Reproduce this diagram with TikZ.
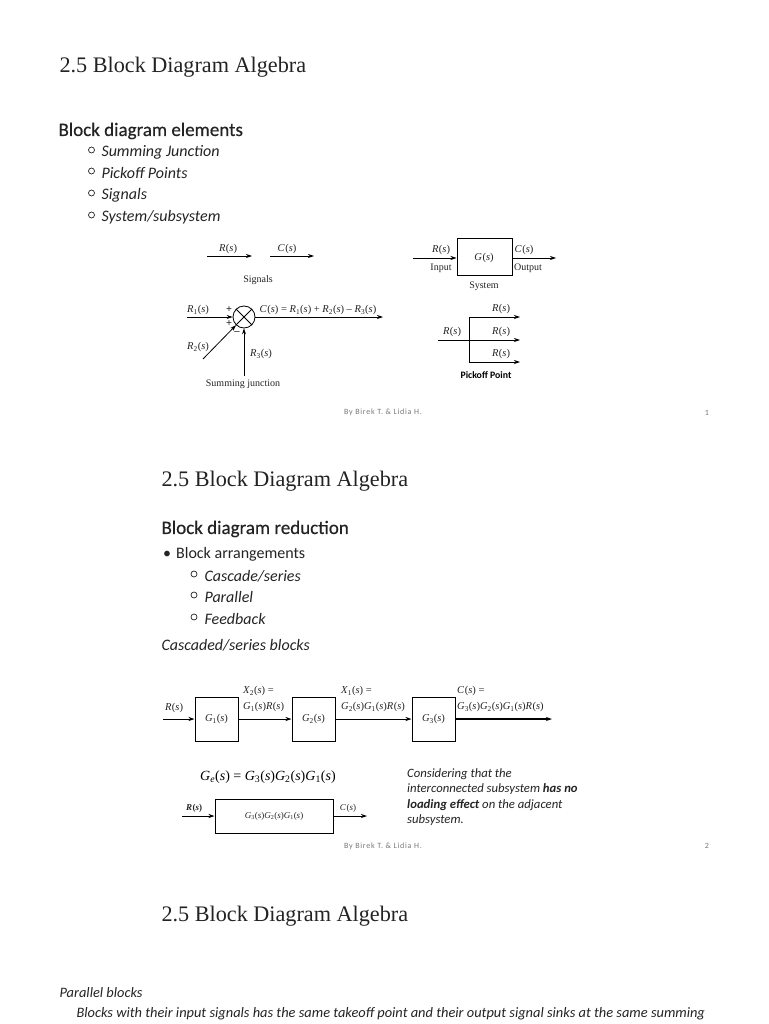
\documentclass[tikz,border=0pt]{standalone}
\usepackage{amsmath,amssymb}
\usepackage{fontspec}
\setmainfont{Liberation Serif}
\newfontfamily\bodyfont{Carlito}
\newfontfamily\headfont[FakeBold=0.5]{Carlito}
\newfontfamily\footfont[LetterSpace=9]{Carlito}
\usepackage{xcolor}
\usetikzlibrary{arrows.meta}
\definecolor{footgray}{RGB}{120,120,120}
\definecolor{inkgray}{RGB}{35,35,35}
\newcommand{\fsz}[1]{\fontsize{#1}{#1}\selectfont}
\newcommand{\sfn}[2][]{\textit{#2}\textsubscript{#1}(\textit{s})}
\tikzset{
  title/.style={anchor=west,text=inkgray,font=\fsz{22.2}},
  subhead/.style={anchor=west,text=inkgray,font=\headfont\fsz{19}},
  listtext/.style={anchor=west,text=inkgray,font=\bodyfont\itshape\fsz{16}},
  hollowdot/.style={draw=inkgray,circle,inner sep=0pt,minimum size=6pt,line width=0.7pt},
  sig/.style={font=\fsz{10.5},inner sep=0pt,text=inkgray},
  tag/.style={font=\fsz{10},inner sep=0pt,text=inkgray},
  foot/.style={font=\footfont\fsz{8},text=footgray,inner sep=0pt},
  blk/.style={draw,line width=1pt,inner sep=0pt},
  link/.style={line width=0.8pt,-{Stealth[length=6pt,width=4pt]}},
  plainlink/.style={line width=0.8pt},
  note/.style={anchor=west,inner sep=0pt,font=\bodyfont\itshape\fsz{12.7},text=inkgray}
}
\begin{document}
\begin{tikzpicture}[x=1pt,y=-1pt]
  \useasboundingbox (0,0) rectangle (768,1024);
  % first slide
  \node[title] (headA) at (56,67) {2.5 Block Diagram Algebra};
  \node[subhead] (elements) at (55,131) {Block diagram elements};
  \foreach \name/\yy/\txt in {sum/152/Summing Junction,pick/173/Pickoff Points,signals/195/Signals,system/217/{System/subsystem}} {
    \node[hollowdot] (dot\name) at (91.5,\yy-2) {};
    \node[listtext] (item\name) at (98,\yy) {\txt};
  }
  % signals
  \coordinate (rsA) at (207,256);
  \coordinate (rsB) at (252,256);
  \coordinate (csA) at (270,256);
  \coordinate (csB) at (314,256);
  \draw[link] (rsA) -- (rsB);
  \draw[link] (csA) -- (csB);
  \node[sig] (rslabel) at (228,249) {\sfn{R}};
  \node[sig] (cslabel) at (287,249) {\sfn{C}};
  \node[tag] (signalstag) at (258,280) {Signals};
  % summing junction
  \node[draw,circle,line width=0.8pt,minimum size=22pt,inner sep=0pt] (junction) at (244,317) {};
  \draw[line width=0.8pt] (junction.north west) -- (junction.south east);
  \draw[line width=0.8pt] (junction.north east) -- (junction.south west);
  \coordinate (rone) at (187,317);
  \coordinate (rtwo) at (203,359);
  \coordinate (rthree) at (244,376);
  \coordinate (cout) at (383,317);
  \draw[link] (rone) -- (junction);
  \draw[link] (rtwo) -- (junction);
  \draw[link] (rthree) -- (junction);
  \draw[link] (junction) -- (cout);
  \node[sig] (ronelabel) at (198,310) {\sfn[1]{R}};
  \node[sig] (rtwolabel) at (198,347) {\sfn[2]{R}};
  \node[sig] (rthreelabel) at (261,354) {\sfn[3]{R}};
  \node[sig] (coutlabel) at (318,310) {\sfn{C} = \sfn[1]{R} + \sfn[2]{R} – \sfn[3]{R}};
  \node[sig] (plusA) at (229,310) {\textbf{+}};
  \node[sig] (plusB) at (229,324) {\textbf{+}};
  \node[sig] (minusA) at (237,333) {\textbf{–}};
  \node[tag] (junctiontag) at (243,384) {Summing junction};
  % system
  \node[blk,minimum width=55pt,minimum height=37pt] (gbox) at (484.5,257) {};
  \node[sig] (glabel) at (484,258) {\sfn{G}};
  \coordinate (inS) at (413,258);
  \coordinate (outS) at (556,258);
  \draw[link] (inS) -- (gbox.west|-inS);
  \draw[link] (gbox.east|-outS) -- (outS);
  \node[sig] (inlabel) at (441,250) {\sfn{R}};
  \node[tag] (inputtag) at (441,268) {Input};
  \node[sig] (outlabel) at (524,250) {\sfn{C}};
  \node[tag] (outputtag) at (528,268) {Output};
  \node[tag] (systemtag) at (484,286) {System};
  % pickoff
  \coordinate (pickin) at (438,340);
  \coordinate (picktop) at (469,317);
  \coordinate (pickmid) at (469,340);
  \coordinate (pickbot) at (469,362);
  \coordinate (pickoutA) at (520,317);
  \coordinate (pickoutB) at (520,340);
  \coordinate (pickoutC) at (520,362);
  \draw[plainlink] (picktop) -- (pickbot);
  \draw[link] (picktop) -- (pickoutA);
  \draw[link] (pickin) -- (pickoutB);
  \draw[link] (pickbot) -- (pickoutC);
  \node[sig] (pickA) at (501,309) {\sfn{R}};
  \node[sig] (pickB) at (501,332) {\sfn{R}};
  \node[sig] (pickC) at (501,354) {\sfn{R}};
  \node[sig] (pickD) at (452,332) {\sfn{R}};
  \node[font=\bodyfont\bfseries\fsz{9.8},inner sep=0pt] (picktag) at (486,375) {Pickoff Point};
  \node[foot] (footA) at (383,412.5) {By Birek T. \& Lidia H.};
  \node[foot] (pageA) at (707,412.5) {1};
  % second slide
  \node[title] (headB) at (158,481) {2.5 Block Diagram Algebra};
  \node[subhead] (reduction) at (158,529) {Block diagram reduction};
  \node[anchor=west,inner sep=0pt,text=inkgray,font=\bodyfont\fsz{16}] (arrange) at (163,554) {•\hspace{5pt}Block arrangements};
  \foreach \name/\yy/\txt in {cascade/576/{Cascade/series},parallel/597/Parallel,feedback/619/Feedback} {
    \node[hollowdot] (dot\name) at (194,\yy-2) {};
    \node[listtext] (item\name) at (201,\yy) {\txt};
  }
  \node[listtext] (cascaded) at (158,645) {Cascaded/series blocks};
  % cascade
  \node[blk,minimum width=43pt,minimum height=44pt] (gone) at (216.5,719) {};
  \node[blk,minimum width=43pt,minimum height=44pt] (gtwo) at (313.5,719) {};
  \node[blk,minimum width=43pt,minimum height=44pt] (gthree) at (433.5,719) {};
  \node[sig] at (gone) {\sfn[1]{G}};
  \node[sig] at (gtwo) {\sfn[2]{G}};
  \node[sig] at (gthree) {\sfn[3]{G}};
  \coordinate (casin) at (163,719);
  \coordinate (casout) at (552,719);
  \draw[link] (casin) -- (gone);
  \draw[link] (gone) -- (gtwo);
  \draw[link] (gtwo) -- (gthree);
  \draw[link,line width=1.2pt] (gthree) -- (casout);
  \node[sig] (caslabel) at (174,708) {\sfn{R}};
  \node[sig,anchor=west] (xtwoA) at (243,691) {\sfn[2]{X} =};
  \node[sig,anchor=west] (xtwoB) at (243,707) {\sfn[1]{G}\sfn{R}};
  \node[sig,anchor=west] (xoneA) at (341,691) {\sfn[1]{X} =};
  \node[sig,anchor=west] (xoneB) at (341,707) {\sfn[2]{G}\sfn[1]{G}\sfn{R}};
  \node[sig,anchor=west] (coneA) at (457,691) {\sfn{C} =};
  \node[sig,anchor=west] (coneB) at (457,707) {\sfn[3]{G}\sfn[2]{G}\sfn[1]{G}\sfn{R}};
  % equivalent
  \node[anchor=west,inner sep=0pt,font=\fsz{14}] (equiv) at (200,777) {\sfn[\textit{e}]{G} = \sfn[3]{G}\sfn[2]{G}\sfn[1]{G}};
  \node[blk,minimum width=118pt,minimum height=34pt] (gall) at (274,816) {};
  \node[sig,font=\fsz{9}] at (gall) {\sfn[3]{G}\sfn[2]{G}\sfn[1]{G}};
  \coordinate (allin) at (182,816);
  \coordinate (allout) at (367,816);
  \draw[link] (allin) -- (gall);
  \draw[link] (gall) -- (allout);
  \node[sig,font=\bfseries\fsz{9}] (alllabelA) at (194,808) {\sfn{R}};
  \node[sig,font=\fsz{9}] (alllabelB) at (348,808) {\sfn{C}};
  \node[note] (noteA) at (407,774) {Considering that the};
  \node[note] (noteB) at (407,789.5) {interconnected subsystem \textbf{has no}};
  \node[note] (noteC) at (407,805) {\textbf{loading effect} on the adjacent};
  \node[note] (noteD) at (407,820.5) {subsystem.};
  \node[foot] (footB) at (383,846) {By Birek T. \& Lidia H.};
  \node[foot] (pageB) at (707,846) {2};
  % third slide
  \node[title] (headC) at (158,916) {2.5 Block Diagram Algebra};
  \node[listtext,font=\bodyfont\itshape\fsz{14.4}] (parallelblocks) at (56,993) {Parallel blocks};
  \node[listtext,font=\bodyfont\itshape\fsz{14.4}] (blockstext) at (73,1014) {Blocks with their input signals has the same takeoff point and their output signal sinks at the same summing};
\end{tikzpicture}
\end{document}
